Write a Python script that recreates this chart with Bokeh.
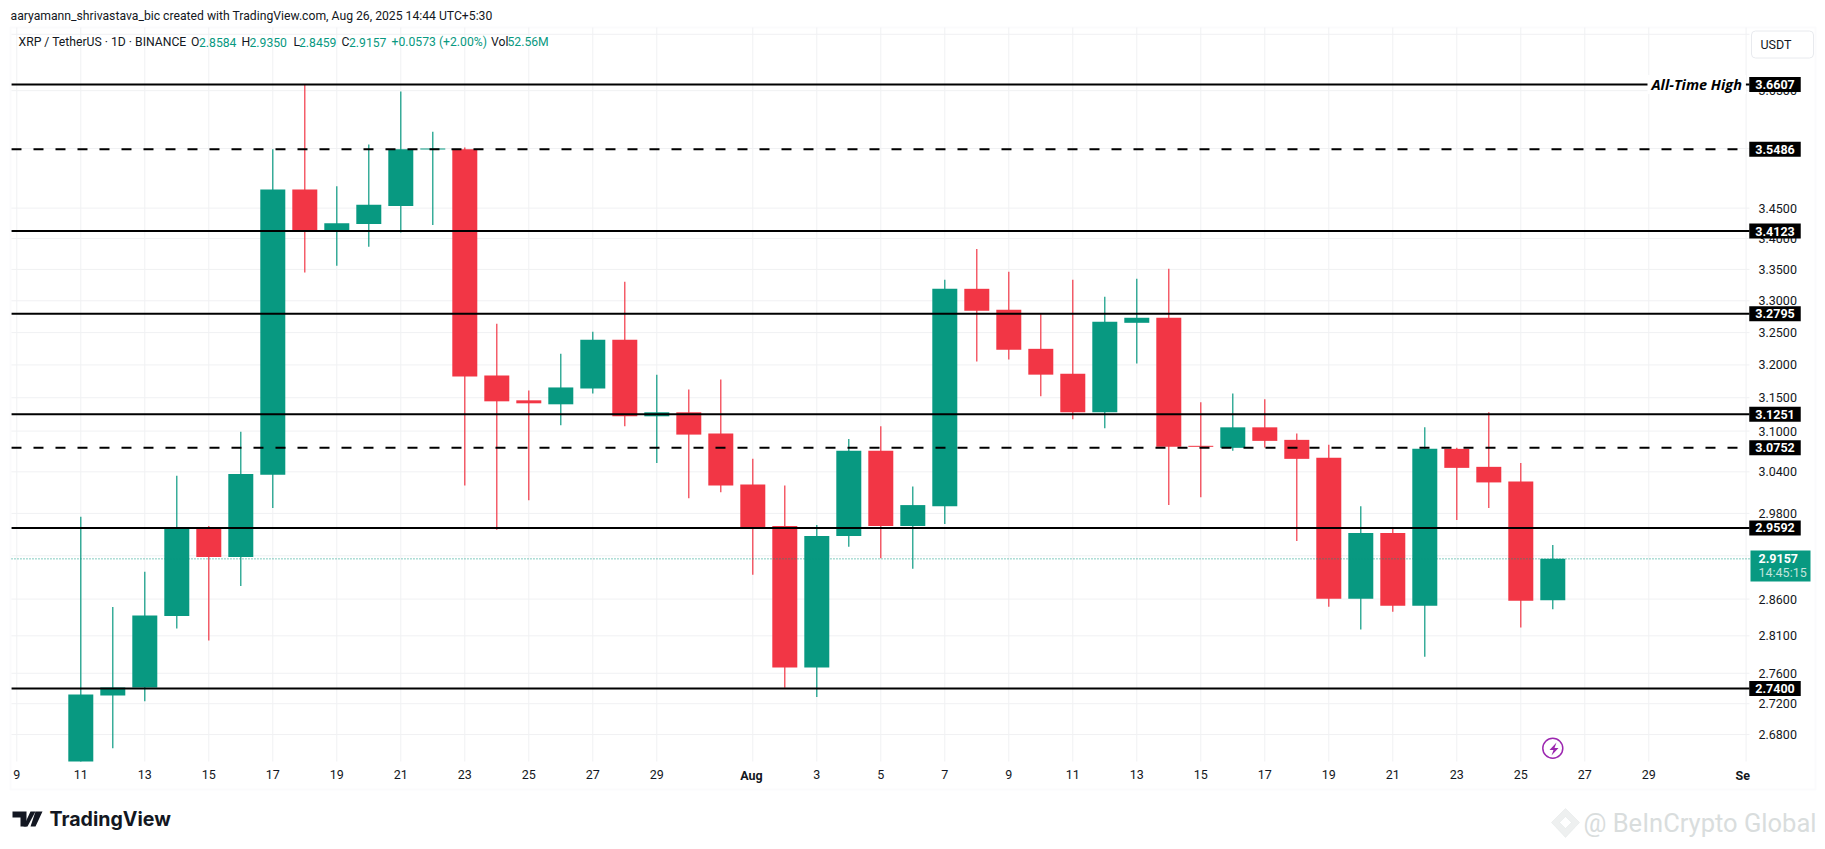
from bokeh.embed import file_html
from bokeh.models import FixedTicker, Label, PolyAnnotation, PrintfTickFormatter, Range1d
from bokeh.plotting import figure
from bokeh.resources import INLINE

# days counted from Jul 9 (0); first candle is Jul 11, last is Aug 26
days = list(range(2, 49))
opens = [2.6456, 2.7308, 2.7413, 2.8370, 2.9592, 2.9184, 3.0357, 3.4809, 3.4140, 3.4238, 3.4533, 3.5482,
         3.5486, 3.1838, 3.1461, 3.1401, 3.1641, 3.2387, 3.1221, 3.1281, 3.0963, 3.0217, 2.9620, 2.7677,
         2.9478, 3.0708, 2.9620, 2.9904, 3.3190, 3.2858, 3.2248, 3.1866, 3.1281, 3.2653, 3.2732, 3.0782,
         3.0752, 3.1056, 3.0870, 3.0605, 2.8605, 2.9521, 2.8508, 3.0737, 3.0473, 3.0261, 2.8584]
highs = [2.9752, 2.8492, 2.8976, 3.0343, 2.9620, 3.0989, 3.5490, 3.6607, 3.4864, 3.5568, 3.6483, 3.5787,
         3.5520, 3.2638, 3.1611, 3.2171, 3.2512, 3.3301, 3.1851, 3.1626, 3.1776, 3.0590, 3.0200, 2.9635,
         3.0884, 3.1071, 3.0186, 3.3333, 3.3830, 3.3463, 3.2795, 3.3333, 3.3065, 3.3350, 3.3510, 3.1431,
         3.1566, 3.1476, 3.0963, 3.0796, 2.9904, 2.9592, 3.1056, 3.0752, 3.1281, 3.0531, 2.9350]
lows = [2.6456, 2.6625, 2.7233, 2.8200, 2.8036, 2.8781, 2.9879, 3.3451, 3.3559, 3.3867, 3.4098, 3.4223,
        3.0200, 2.9568, 2.9990, 3.1086, 3.1566, 3.1071, 3.0531, 3.0018, 3.0103, 2.8934, 2.7409, 2.7286,
        2.9328, 2.9165, 2.9018, 2.9649, 3.2051, 3.2082, 3.1521, 3.1176, 3.1041, 3.2020, 2.9919, 3.0033,
        3.0708, 3.0757, 2.9409, 2.8494, 2.8185, 2.8426, 2.7819, 2.9706, 2.9876, 2.8212, 2.8459]
closes = [2.7321, 2.7413, 2.8376, 2.9592, 2.9184, 3.0370, 3.4809, 3.4140, 3.4251, 3.4554, 3.5490, 3.5499,
          3.1822, 3.1446, 3.1416, 3.1656, 3.2387, 3.1221, 3.1281, 3.0948, 3.0200, 2.9602, 2.7677, 2.9478,
          3.0708, 2.9620, 2.9919, 3.3190, 3.2842, 3.2233, 3.1851, 3.1281, 3.2669, 3.2732, 3.0767, 3.0767,
          3.1056, 3.0855, 3.0590, 2.8605, 2.9521, 2.8508, 3.0737, 3.0458, 3.0246, 2.8578, 2.9157]

solid_levels = [3.6607, 3.4123, 3.2795, 3.1251, 2.9592, 2.7400]
dashed_levels = [3.5486, 3.0752]
last_price = 2.9157
price_ticks = [3.75, 3.65, 3.55, 3.45, 3.40, 3.35, 3.30, 3.25, 3.20, 3.15, 3.10, 3.04, 2.98, 2.92,
               2.86, 2.81, 2.76, 2.72, 2.68]
day_ticks = [0, 2, 4, 6, 8, 10, 12, 14, 16, 18, 20, 23, 25, 27, 29, 31, 33, 35, 37, 39, 41, 43, 45, 47, 49, 51, 54.04]
day_labels = ["9", "11", "13", "15", "17", "19", "21", "23", "25", "27", "29", "", "3", "5", "7", "9", "11", "13",
              "15", "17", "19", "21", "23", "25", "27", "29", ""]

GREEN = "#089981"
RED = "#F23645"
TEXT = "#131722"
GRID = "#f0f1f3"
FONT = "Roboto"
W, H = 1817, 841

# visible chart pane, the frame itself covers the whole figure so that annotations are not clipped
x_lo, x_hi = -0.166, 54.147
y_lo, y_hi = 2.6456, 3.7622


def sy(y):
    return H - y


p = figure(width=W, height=H, output_backend="svg", toolbar_location=None,
           y_axis_type="log", y_axis_location="right",
           x_range=Range1d(-0.5094, 56.272), y_range=Range1d(2.5460, 3.8113),
           min_border_left=0, min_border_top=0, min_border_right=0, min_border_bottom=0)
p.outline_line_color = None
p.grid.visible = False

p.xaxis.fixed_location = y_lo
p.yaxis.fixed_location = x_hi
p.xaxis.ticker = FixedTicker(ticks=day_ticks)
p.xaxis.major_label_overrides = dict(zip(day_ticks, day_labels))
p.yaxis.ticker = FixedTicker(ticks=price_ticks)
p.yaxis.formatter = PrintfTickFormatter(format="%.4f")
# the top label sits behind the USDT button in the original
p.yaxis.major_label_overrides = {3.75: ""}
for ax in (p.xaxis, p.yaxis):
    ax.axis_line_color = None
    ax.major_tick_line_color = None
    ax.minor_tick_line_color = None
    ax.major_tick_in = 0
    ax.major_tick_out = 0
    ax.minor_tick_in = 0
    ax.minor_tick_out = 0
    ax.major_label_text_font = FONT
    ax.major_label_text_font_size = "12.5px"
    ax.major_label_text_color = TEXT
p.yaxis.major_label_standoff = 9
p.xaxis.major_label_standoff = 8

# pane grid, stops at the price axis and the date axis
p.segment(day_ticks, [y_lo] * len(day_ticks), day_ticks, [y_hi] * len(day_ticks), line_color=GRID, line_width=1)
p.segment([x_lo] * len(price_ticks), price_ticks, [x_hi] * len(price_ticks), price_ticks, line_color=GRID, line_width=1)

colors = [GREEN if c >= o else RED for o, c in zip(opens, closes)]
tops = [max(o, c) for o, c in zip(opens, closes)]
bottoms = [min(o, c) for o, c in zip(opens, closes)]
p.segment(days, lows, days, highs, line_color=colors, line_width=1.2)
p.vbar(x=days, top=tops, bottom=bottoms, width=0.781, fill_color=colors, line_color=None)

p.line([x_lo, x_hi], [last_price, last_price], line_color=GREEN, line_width=1, line_dash=[1, 2])
for lvl in solid_levels:
    p.line([x_lo, x_hi], [lvl, lvl], line_color="black", line_width=2)
for lvl in dashed_levels:
    p.line([x_lo, x_hi], [lvl, lvl], line_color="black", line_width=2, line_dash=[10, 12])


def text(txt, x, y, color=TEXT, size="12.2px", font=FONT, style="normal", align="left"):
    p.add_layout(Label(x=x, y=sy(y), x_units="screen", y_units="screen", text=txt, text_color=color,
                       text_font=font, text_font_size=size, text_font_style=style, text_align=align,
                       text_baseline="middle"))


def poly(xs, ys, fill, line=None, width=1, alpha=1.0):
    p.add_layout(PolyAnnotation(xs=xs, ys=[sy(v) for v in ys], xs_units="screen", ys_units="screen",
                                fill_color=fill, fill_alpha=alpha, line_color=line, line_width=width))


# outer pane border
poly([10, 1815, 1815, 10], [27, 27, 789, 789], None, "#f1f2f4", 2, alpha=0.0)

# price tags sit on top of the axis labels
for lvl in sorted(solid_levels + dashed_levels):
    p.add_layout(Label(x=1774.5, y=lvl, x_units="screen", y_units="data", text="%.4f" % lvl, text_color="white",
                       text_font=FONT, text_font_size="12.5px", text_font_style="bold", text_align="center",
                       text_baseline="middle", background_fill_color="black", padding=(6, 3)))

poly([1750, 1810, 1810, 1750], [550, 550, 581, 581], GREEN)
text("%.4f" % last_price, 1758, 558, "white", size="12.5px", style="bold")
text("14:45:15", 1758, 572, "#c2e4dc", size="12.5px")

p.add_layout(Label(x=1647, y=solid_levels[0], x_units="screen", y_units="data", text="All-Time High", text_color="black",
                   text_font="Open Sans", text_font_size="14.5px", text_font_style="bold italic", text_baseline="middle",
                   background_fill_color="white", padding=(4, 0)))

p.add_layout(Label(x=1782, y=sy(44), x_units="screen", y_units="screen", text="USDT", text_color=TEXT,
                   text_font=FONT, text_font_size="12.5px", text_align="center", text_baseline="middle",
                   background_fill_color="white", border_line_color="#e8eaee", border_line_width=1,
                   padding=(9, 22, 6, 6), border_radius=4))

# header
text("aaryamann_shrivastava_bic created with TradingView.com, Aug 26, 2025 14:44 UTC+5:30", 10, 15)
header_parts = [("XRP / TetherUS \u00b7 1D \u00b7 BINANCE", 18, TEXT), ("O", 190.5, TEXT), ("2.8584", 198.5, GREEN),
                ("H", 241, TEXT), ("2.9350", 249, GREEN), ("L", 293, TEXT), ("2.8459", 298.5, GREEN),
                ("C", 341, TEXT), ("2.9157", 348.5, GREEN), ("+0.0573 (+2.00%)", 391, GREEN),
                ("Vol", 490.5, TEXT), ("52.56M", 507, GREEN)]
for part, xpos, col in header_parts:
    text(part, xpos, 41.5, col)

# month labels are heavier than the day labels
text("Aug", 751, 775, size="12.5px", style="bold", align="center")
text("Se", 1735, 775, size="12.5px", style="bold")

# lightning marker on the last candle
p.scatter([48], [2.6625], size=20, marker="circle", fill_color="white", line_color="#9c27b0", line_width=1.5)
poly([1556, 1549, 1553, 1551, 1558, 1554], [742, 749.5, 749.5, 755, 747.5, 747.5], "#9c27b0")

# TradingView logo
poly([12, 26, 26, 20, 20, 12], [811, 811, 826, 826, 817, 817], "#131722")
poly([27, 35, 30, 23], [826, 811, 811, 826], "#131722")
poly([35, 42, 35, 30], [811, 811, 826, 826], "#131722")
text("TradingView", 49, 818, font="Inter", size="19.6px", style="bold")

# watermark
poly([1565, 1579, 1565, 1551], [808, 822, 837, 822], "#eef0f0", "#d5d9d9", 1)
poly([1565, 1571, 1565, 1559], [816, 822, 828, 822], "white", "#d5d9d9", 1)
text("@ BeInCrypto Global", 1583, 822, "#d9dddd", size="25.5px", font="Roboto")

open("out.html", "w").write(file_html(p, INLINE))
